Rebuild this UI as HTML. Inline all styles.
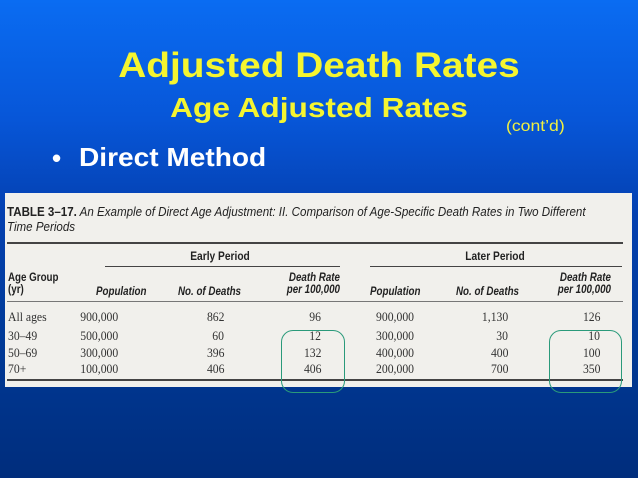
<!DOCTYPE html>
<html><head><meta charset="utf-8"><style>
body{margin:0}
#s{position:relative;width:638px;height:478px;overflow:hidden;background:linear-gradient(#0a6cf2 0%,#0756d8 25%,#0440b0 45%,#003a98 70%,#002d7c 100%);font-family:"Liberation Sans",sans-serif}
.a{position:absolute;white-space:nowrap}
.y{color:#f5f530;font-weight:bold}
#t{left:5px;top:193px;width:627px;height:194px;background:#f1f0ec}
.c{font-family:"Liberation Sans",sans-serif;font-style:italic;font-weight:bold;font-size:11.5px;color:#222;transform:scaleX(.85)}
.n{font-family:"Liberation Serif",serif;font-size:13px;color:#333;transform:scaleX(.9)}
.r{text-align:right}
.ln{position:absolute;background:#444}
.box{position:absolute;border:1.5px solid #2a9a7a;border-radius:12px}
</style></head><body>
<div id="s">
<div class="a y" style="left:0;width:638px;text-align:center;top:46px;font-size:35px;transform:scaleX(1.11)">Adjusted Death Rates</div>
<div class="a y" style="left:0;width:638px;text-align:center;top:92px;font-size:28px;transform:scaleX(1.13)">Age Adjusted Rates</div>
<div class="a" style="left:506px;top:118px;font-size:16px;color:#f0f040;transform-origin:0 0;transform:scaleX(1.1)">(cont’d)</div>
<div class="a" style="left:52px;top:143px;font-size:26px;color:#fff;font-weight:bold">•</div>
<div class="a" style="left:79px;top:142px;font-size:26px;color:#fff;font-weight:bold;transform-origin:0 0;transform:scaleX(1.08)">Direct Method</div>
<div class="a" id="t">
<div class="a c" style="left:2px;top:11px;font-size:13px;transform-origin:0 0;transform:scaleX(.89);font-weight:normal"><b style="font-style:normal">TABLE 3–17.</b> An Example of Direct Age Adjustment: II. Comparison of Age-Specific Death Rates in Two Different</div>
<div class="a c" style="left:2px;top:26px;font-size:13px;font-weight:normal;transform-origin:0 0;transform:scaleX(.89)">Time Periods</div>
<div class="ln" style="left:2px;top:49px;width:616px;height:2px"></div>
<div class="a c" style="left:180px;top:56px;font-size:12px;font-style:normal">Early Period</div>
<div class="a c" style="left:455px;top:56px;font-size:12px;font-style:normal">Later Period</div>
<div class="ln" style="left:100px;top:73px;width:235px;height:1px"></div>
<div class="ln" style="left:365px;top:73px;width:252px;height:1px"></div>
<div class="a c" style="left:3px;top:79px;font-style:normal;transform-origin:0 0">Age Group<br>(yr)</div>
<div class="a c" style="left:91px;top:93px;transform-origin:0 0">Population</div>
<div class="a c" style="left:173px;top:93px;transform-origin:0 0">No. of Deaths</div>
<div class="a c r" style="left:255px;width:80px;top:79px;transform-origin:100% 0">Death Rate<br>per 100,000</div>
<div class="a c" style="left:365px;top:93px;transform-origin:0 0">Population</div>
<div class="a c" style="left:451px;top:93px;transform-origin:0 0">No. of Deaths</div>
<div class="a c r" style="left:525px;width:81px;top:79px;transform-origin:100% 0">Death Rate<br>per 100,000</div>
<div class="ln" style="left:2px;top:108px;width:616px;height:1px;background:#777"></div>
<div id="rows"></div>
<div class="ln" style="left:2px;top:186px;width:616px;height:2px"></div>
</div>
<div class="box" style="left:281px;top:330px;width:62px;height:61px"></div>
<div class="box" style="left:549px;top:330px;width:71px;height:61px"></div>
</div>
<script>
const ages=["All ages","30–49","50–69","70+"];
const pop1=["900,000","500,000","300,000","100,000"];
const deaths1=["862","60","396","406"];
const rate1=["96","12","132","406"];
const pop2=["900,000","300,000","400,000","200,000"];
const deaths2=["1,130","30","400","700"];
const rate2=["126","10","100","350"];
const t=document.getElementById('t');
const rowTops=[116,135,152,168];
const cols=[[ages,3,null],[pop1,null,113],[deaths1,null,219],[rate1,null,316],[pop2,371,null],[deaths2,null,503],[rate2,null,595]];
ages.forEach((_,i)=>{
 cols.forEach((c,j)=>{
  const d=document.createElement('div');
  d.className='a n';
  d.textContent=c[0][i];
  d.style.top=rowTops[i]+'px';
  if(c[1]!==null){d.style.left=c[1]+'px';d.style.transformOrigin='0 0';}else{d.style.right=(627-c[2])+'px';d.style.transformOrigin='100% 0';}
  
  
  t.appendChild(d);
 });
});
</script>
</body></html>
